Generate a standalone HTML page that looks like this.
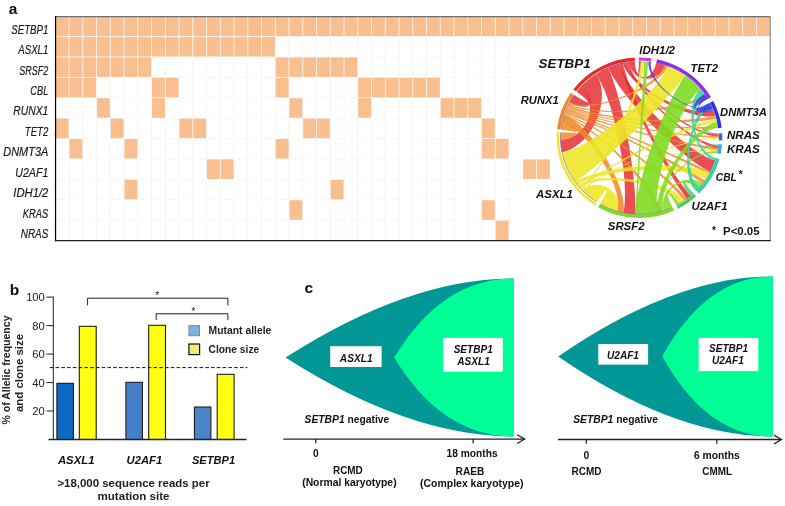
<!DOCTYPE html>
<html><head><meta charset="utf-8"><title>Figure</title>
<style>html,body{margin:0;padding:0;background:#fff}svg{display:block}</style></head>
<body>
<svg width="785" height="506" viewBox="0 0 785 506">
<rect width="785" height="506" fill="#fff"/>
<g id="grid"><line x1="69.05" y1="16.6" x2="69.05" y2="240.4" stroke="#f5f5f5" stroke-width="1"/>
<line x1="82.80" y1="16.6" x2="82.80" y2="240.4" stroke="#f5f5f5" stroke-width="1"/>
<line x1="96.54" y1="16.6" x2="96.54" y2="240.4" stroke="#f5f5f5" stroke-width="1"/>
<line x1="110.29" y1="16.6" x2="110.29" y2="240.4" stroke="#f5f5f5" stroke-width="1"/>
<line x1="124.04" y1="16.6" x2="124.04" y2="240.4" stroke="#f5f5f5" stroke-width="1"/>
<line x1="137.79" y1="16.6" x2="137.79" y2="240.4" stroke="#f5f5f5" stroke-width="1"/>
<line x1="151.54" y1="16.6" x2="151.54" y2="240.4" stroke="#f5f5f5" stroke-width="1"/>
<line x1="165.28" y1="16.6" x2="165.28" y2="240.4" stroke="#f5f5f5" stroke-width="1"/>
<line x1="179.03" y1="16.6" x2="179.03" y2="240.4" stroke="#f5f5f5" stroke-width="1"/>
<line x1="192.78" y1="16.6" x2="192.78" y2="240.4" stroke="#f5f5f5" stroke-width="1"/>
<line x1="206.53" y1="16.6" x2="206.53" y2="240.4" stroke="#f5f5f5" stroke-width="1"/>
<line x1="220.28" y1="16.6" x2="220.28" y2="240.4" stroke="#f5f5f5" stroke-width="1"/>
<line x1="234.03" y1="16.6" x2="234.03" y2="240.4" stroke="#f5f5f5" stroke-width="1"/>
<line x1="247.77" y1="16.6" x2="247.77" y2="240.4" stroke="#f5f5f5" stroke-width="1"/>
<line x1="261.52" y1="16.6" x2="261.52" y2="240.4" stroke="#f5f5f5" stroke-width="1"/>
<line x1="275.27" y1="16.6" x2="275.27" y2="240.4" stroke="#f5f5f5" stroke-width="1"/>
<line x1="289.02" y1="16.6" x2="289.02" y2="240.4" stroke="#f5f5f5" stroke-width="1"/>
<line x1="302.77" y1="16.6" x2="302.77" y2="240.4" stroke="#f5f5f5" stroke-width="1"/>
<line x1="316.51" y1="16.6" x2="316.51" y2="240.4" stroke="#f5f5f5" stroke-width="1"/>
<line x1="330.26" y1="16.6" x2="330.26" y2="240.4" stroke="#f5f5f5" stroke-width="1"/>
<line x1="344.01" y1="16.6" x2="344.01" y2="240.4" stroke="#f5f5f5" stroke-width="1"/>
<line x1="357.76" y1="16.6" x2="357.76" y2="240.4" stroke="#f5f5f5" stroke-width="1"/>
<line x1="371.51" y1="16.6" x2="371.51" y2="240.4" stroke="#f5f5f5" stroke-width="1"/>
<line x1="385.25" y1="16.6" x2="385.25" y2="240.4" stroke="#f5f5f5" stroke-width="1"/>
<line x1="399.00" y1="16.6" x2="399.00" y2="240.4" stroke="#f5f5f5" stroke-width="1"/>
<line x1="412.75" y1="16.6" x2="412.75" y2="240.4" stroke="#f5f5f5" stroke-width="1"/>
<line x1="426.50" y1="16.6" x2="426.50" y2="240.4" stroke="#f5f5f5" stroke-width="1"/>
<line x1="440.25" y1="16.6" x2="440.25" y2="240.4" stroke="#f5f5f5" stroke-width="1"/>
<line x1="453.99" y1="16.6" x2="453.99" y2="240.4" stroke="#f5f5f5" stroke-width="1"/>
<line x1="467.74" y1="16.6" x2="467.74" y2="240.4" stroke="#f5f5f5" stroke-width="1"/>
<line x1="481.49" y1="16.6" x2="481.49" y2="240.4" stroke="#f5f5f5" stroke-width="1"/>
<line x1="495.24" y1="16.6" x2="495.24" y2="240.4" stroke="#f5f5f5" stroke-width="1"/>
<line x1="508.99" y1="16.6" x2="508.99" y2="240.4" stroke="#f5f5f5" stroke-width="1"/>
<line x1="522.73" y1="16.6" x2="522.73" y2="240.4" stroke="#f5f5f5" stroke-width="1"/>
<line x1="536.48" y1="16.6" x2="536.48" y2="240.4" stroke="#f5f5f5" stroke-width="1"/>
<line x1="550.23" y1="16.6" x2="550.23" y2="240.4" stroke="#f5f5f5" stroke-width="1"/>
<line x1="563.98" y1="16.6" x2="563.98" y2="240.4" stroke="#f5f5f5" stroke-width="1"/>
<line x1="577.73" y1="16.6" x2="577.73" y2="240.4" stroke="#f5f5f5" stroke-width="1"/>
<line x1="591.48" y1="16.6" x2="591.48" y2="240.4" stroke="#f5f5f5" stroke-width="1"/>
<line x1="605.22" y1="16.6" x2="605.22" y2="240.4" stroke="#f5f5f5" stroke-width="1"/>
<line x1="618.97" y1="16.6" x2="618.97" y2="240.4" stroke="#f5f5f5" stroke-width="1"/>
<line x1="632.72" y1="16.6" x2="632.72" y2="240.4" stroke="#f5f5f5" stroke-width="1"/>
<line x1="646.47" y1="16.6" x2="646.47" y2="240.4" stroke="#f5f5f5" stroke-width="1"/>
<line x1="660.22" y1="16.6" x2="660.22" y2="240.4" stroke="#f5f5f5" stroke-width="1"/>
<line x1="673.96" y1="16.6" x2="673.96" y2="240.4" stroke="#f5f5f5" stroke-width="1"/>
<line x1="687.71" y1="16.6" x2="687.71" y2="240.4" stroke="#f5f5f5" stroke-width="1"/>
<line x1="701.46" y1="16.6" x2="701.46" y2="240.4" stroke="#f5f5f5" stroke-width="1"/>
<line x1="715.21" y1="16.6" x2="715.21" y2="240.4" stroke="#f5f5f5" stroke-width="1"/>
<line x1="728.96" y1="16.6" x2="728.96" y2="240.4" stroke="#f5f5f5" stroke-width="1"/>
<line x1="742.70" y1="16.6" x2="742.70" y2="240.4" stroke="#f5f5f5" stroke-width="1"/>
<line x1="756.45" y1="16.6" x2="756.45" y2="240.4" stroke="#f5f5f5" stroke-width="1"/>
<line x1="55.3" y1="36.51" x2="770.2" y2="36.51" stroke="#f5f5f5" stroke-width="1" stroke-dasharray="9 5"/>
<line x1="55.3" y1="56.92" x2="770.2" y2="56.92" stroke="#f5f5f5" stroke-width="1" stroke-dasharray="9 5"/>
<line x1="55.3" y1="77.33" x2="770.2" y2="77.33" stroke="#f5f5f5" stroke-width="1" stroke-dasharray="9 5"/>
<line x1="55.3" y1="97.74" x2="770.2" y2="97.74" stroke="#f5f5f5" stroke-width="1" stroke-dasharray="9 5"/>
<line x1="55.3" y1="118.15" x2="770.2" y2="118.15" stroke="#f5f5f5" stroke-width="1" stroke-dasharray="9 5"/>
<line x1="55.3" y1="138.55" x2="770.2" y2="138.55" stroke="#f5f5f5" stroke-width="1" stroke-dasharray="9 5"/>
<line x1="55.3" y1="158.96" x2="770.2" y2="158.96" stroke="#f5f5f5" stroke-width="1" stroke-dasharray="9 5"/>
<line x1="55.3" y1="179.37" x2="770.2" y2="179.37" stroke="#f5f5f5" stroke-width="1" stroke-dasharray="9 5"/>
<line x1="55.3" y1="199.78" x2="770.2" y2="199.78" stroke="#f5f5f5" stroke-width="1" stroke-dasharray="9 5"/>
<line x1="55.3" y1="220.19" x2="770.2" y2="220.19" stroke="#f5f5f5" stroke-width="1" stroke-dasharray="9 5"/>
<rect x="517" y="39" width="235" height="200.5" fill="#fff"/>
<rect x="55.72" y="16.52" width="12.91" height="19.57" fill="#F9BF8F"/>
<rect x="69.47" y="16.52" width="12.91" height="19.57" fill="#F9BF8F"/>
<rect x="83.22" y="16.52" width="12.91" height="19.57" fill="#F9BF8F"/>
<rect x="96.96" y="16.52" width="12.91" height="19.57" fill="#F9BF8F"/>
<rect x="110.71" y="16.52" width="12.91" height="19.57" fill="#F9BF8F"/>
<rect x="124.46" y="16.52" width="12.91" height="19.57" fill="#F9BF8F"/>
<rect x="138.21" y="16.52" width="12.91" height="19.57" fill="#F9BF8F"/>
<rect x="151.96" y="16.52" width="12.91" height="19.57" fill="#F9BF8F"/>
<rect x="165.70" y="16.52" width="12.91" height="19.57" fill="#F9BF8F"/>
<rect x="179.45" y="16.52" width="12.91" height="19.57" fill="#F9BF8F"/>
<rect x="193.20" y="16.52" width="12.91" height="19.57" fill="#F9BF8F"/>
<rect x="206.95" y="16.52" width="12.91" height="19.57" fill="#F9BF8F"/>
<rect x="220.70" y="16.52" width="12.91" height="19.57" fill="#F9BF8F"/>
<rect x="234.45" y="16.52" width="12.91" height="19.57" fill="#F9BF8F"/>
<rect x="248.19" y="16.52" width="12.91" height="19.57" fill="#F9BF8F"/>
<rect x="261.94" y="16.52" width="12.91" height="19.57" fill="#F9BF8F"/>
<rect x="275.69" y="16.52" width="12.91" height="19.57" fill="#F9BF8F"/>
<rect x="289.44" y="16.52" width="12.91" height="19.57" fill="#F9BF8F"/>
<rect x="303.19" y="16.52" width="12.91" height="19.57" fill="#F9BF8F"/>
<rect x="316.93" y="16.52" width="12.91" height="19.57" fill="#F9BF8F"/>
<rect x="330.68" y="16.52" width="12.91" height="19.57" fill="#F9BF8F"/>
<rect x="344.43" y="16.52" width="12.91" height="19.57" fill="#F9BF8F"/>
<rect x="358.18" y="16.52" width="12.91" height="19.57" fill="#F9BF8F"/>
<rect x="371.93" y="16.52" width="12.91" height="19.57" fill="#F9BF8F"/>
<rect x="385.67" y="16.52" width="12.91" height="19.57" fill="#F9BF8F"/>
<rect x="399.42" y="16.52" width="12.91" height="19.57" fill="#F9BF8F"/>
<rect x="413.17" y="16.52" width="12.91" height="19.57" fill="#F9BF8F"/>
<rect x="426.92" y="16.52" width="12.91" height="19.57" fill="#F9BF8F"/>
<rect x="440.67" y="16.52" width="12.91" height="19.57" fill="#F9BF8F"/>
<rect x="454.41" y="16.52" width="12.91" height="19.57" fill="#F9BF8F"/>
<rect x="468.16" y="16.52" width="12.91" height="19.57" fill="#F9BF8F"/>
<rect x="481.91" y="16.52" width="12.91" height="19.57" fill="#F9BF8F"/>
<rect x="495.66" y="16.52" width="12.91" height="19.57" fill="#F9BF8F"/>
<rect x="509.41" y="16.52" width="12.91" height="19.57" fill="#F9BF8F"/>
<rect x="523.15" y="16.52" width="12.91" height="19.57" fill="#F9BF8F"/>
<rect x="536.90" y="16.52" width="12.91" height="19.57" fill="#F9BF8F"/>
<rect x="550.65" y="16.52" width="12.91" height="19.57" fill="#F9BF8F"/>
<rect x="564.40" y="16.52" width="12.91" height="19.57" fill="#F9BF8F"/>
<rect x="578.15" y="16.52" width="12.91" height="19.57" fill="#F9BF8F"/>
<rect x="591.89" y="16.52" width="12.91" height="19.57" fill="#F9BF8F"/>
<rect x="605.64" y="16.52" width="12.91" height="19.57" fill="#F9BF8F"/>
<rect x="619.39" y="16.52" width="12.91" height="19.57" fill="#F9BF8F"/>
<rect x="633.14" y="16.52" width="12.91" height="19.57" fill="#F9BF8F"/>
<rect x="646.89" y="16.52" width="12.91" height="19.57" fill="#F9BF8F"/>
<rect x="660.64" y="16.52" width="12.91" height="19.57" fill="#F9BF8F"/>
<rect x="674.38" y="16.52" width="12.91" height="19.57" fill="#F9BF8F"/>
<rect x="688.13" y="16.52" width="12.91" height="19.57" fill="#F9BF8F"/>
<rect x="701.88" y="16.52" width="12.91" height="19.57" fill="#F9BF8F"/>
<rect x="715.63" y="16.52" width="12.91" height="19.57" fill="#F9BF8F"/>
<rect x="729.38" y="16.52" width="12.91" height="19.57" fill="#F9BF8F"/>
<rect x="743.12" y="16.52" width="12.91" height="19.57" fill="#F9BF8F"/>
<rect x="756.87" y="16.52" width="12.91" height="19.57" fill="#F9BF8F"/>
<rect x="55.72" y="36.93" width="12.91" height="19.57" fill="#F9BF8F"/>
<rect x="69.47" y="36.93" width="12.91" height="19.57" fill="#F9BF8F"/>
<rect x="83.22" y="36.93" width="12.91" height="19.57" fill="#F9BF8F"/>
<rect x="96.96" y="36.93" width="12.91" height="19.57" fill="#F9BF8F"/>
<rect x="110.71" y="36.93" width="12.91" height="19.57" fill="#F9BF8F"/>
<rect x="124.46" y="36.93" width="12.91" height="19.57" fill="#F9BF8F"/>
<rect x="138.21" y="36.93" width="12.91" height="19.57" fill="#F9BF8F"/>
<rect x="151.96" y="36.93" width="12.91" height="19.57" fill="#F9BF8F"/>
<rect x="165.70" y="36.93" width="12.91" height="19.57" fill="#F9BF8F"/>
<rect x="179.45" y="36.93" width="12.91" height="19.57" fill="#F9BF8F"/>
<rect x="193.20" y="36.93" width="12.91" height="19.57" fill="#F9BF8F"/>
<rect x="206.95" y="36.93" width="12.91" height="19.57" fill="#F9BF8F"/>
<rect x="220.70" y="36.93" width="12.91" height="19.57" fill="#F9BF8F"/>
<rect x="234.45" y="36.93" width="12.91" height="19.57" fill="#F9BF8F"/>
<rect x="248.19" y="36.93" width="12.91" height="19.57" fill="#F9BF8F"/>
<rect x="261.94" y="36.93" width="12.91" height="19.57" fill="#F9BF8F"/>
<rect x="55.72" y="57.34" width="12.91" height="19.57" fill="#F9BF8F"/>
<rect x="69.47" y="57.34" width="12.91" height="19.57" fill="#F9BF8F"/>
<rect x="83.22" y="57.34" width="12.91" height="19.57" fill="#F9BF8F"/>
<rect x="96.96" y="57.34" width="12.91" height="19.57" fill="#F9BF8F"/>
<rect x="110.71" y="57.34" width="12.91" height="19.57" fill="#F9BF8F"/>
<rect x="124.46" y="57.34" width="12.91" height="19.57" fill="#F9BF8F"/>
<rect x="138.21" y="57.34" width="12.91" height="19.57" fill="#F9BF8F"/>
<rect x="275.69" y="57.34" width="12.91" height="19.57" fill="#F9BF8F"/>
<rect x="289.44" y="57.34" width="12.91" height="19.57" fill="#F9BF8F"/>
<rect x="303.19" y="57.34" width="12.91" height="19.57" fill="#F9BF8F"/>
<rect x="316.93" y="57.34" width="12.91" height="19.57" fill="#F9BF8F"/>
<rect x="330.68" y="57.34" width="12.91" height="19.57" fill="#F9BF8F"/>
<rect x="344.43" y="57.34" width="12.91" height="19.57" fill="#F9BF8F"/>
<rect x="55.72" y="77.75" width="12.91" height="19.57" fill="#F9BF8F"/>
<rect x="69.47" y="77.75" width="12.91" height="19.57" fill="#F9BF8F"/>
<rect x="83.22" y="77.75" width="12.91" height="19.57" fill="#F9BF8F"/>
<rect x="151.96" y="77.75" width="12.91" height="19.57" fill="#F9BF8F"/>
<rect x="165.70" y="77.75" width="12.91" height="19.57" fill="#F9BF8F"/>
<rect x="275.69" y="77.75" width="12.91" height="19.57" fill="#F9BF8F"/>
<rect x="358.18" y="77.75" width="12.91" height="19.57" fill="#F9BF8F"/>
<rect x="371.93" y="77.75" width="12.91" height="19.57" fill="#F9BF8F"/>
<rect x="385.67" y="77.75" width="12.91" height="19.57" fill="#F9BF8F"/>
<rect x="399.42" y="77.75" width="12.91" height="19.57" fill="#F9BF8F"/>
<rect x="413.17" y="77.75" width="12.91" height="19.57" fill="#F9BF8F"/>
<rect x="426.92" y="77.75" width="12.91" height="19.57" fill="#F9BF8F"/>
<rect x="96.96" y="98.16" width="12.91" height="19.57" fill="#F9BF8F"/>
<rect x="151.96" y="98.16" width="12.91" height="19.57" fill="#F9BF8F"/>
<rect x="289.44" y="98.16" width="12.91" height="19.57" fill="#F9BF8F"/>
<rect x="358.18" y="98.16" width="12.91" height="19.57" fill="#F9BF8F"/>
<rect x="440.67" y="98.16" width="12.91" height="19.57" fill="#F9BF8F"/>
<rect x="454.41" y="98.16" width="12.91" height="19.57" fill="#F9BF8F"/>
<rect x="468.16" y="98.16" width="12.91" height="19.57" fill="#F9BF8F"/>
<rect x="55.72" y="118.57" width="12.91" height="19.57" fill="#F9BF8F"/>
<rect x="110.71" y="118.57" width="12.91" height="19.57" fill="#F9BF8F"/>
<rect x="179.45" y="118.57" width="12.91" height="19.57" fill="#F9BF8F"/>
<rect x="193.20" y="118.57" width="12.91" height="19.57" fill="#F9BF8F"/>
<rect x="303.19" y="118.57" width="12.91" height="19.57" fill="#F9BF8F"/>
<rect x="316.93" y="118.57" width="12.91" height="19.57" fill="#F9BF8F"/>
<rect x="481.91" y="118.57" width="12.91" height="19.57" fill="#F9BF8F"/>
<rect x="69.47" y="138.97" width="12.91" height="19.57" fill="#F9BF8F"/>
<rect x="124.46" y="138.97" width="12.91" height="19.57" fill="#F9BF8F"/>
<rect x="275.69" y="138.97" width="12.91" height="19.57" fill="#F9BF8F"/>
<rect x="481.91" y="138.97" width="12.91" height="19.57" fill="#F9BF8F"/>
<rect x="495.66" y="138.97" width="12.91" height="19.57" fill="#F9BF8F"/>
<rect x="206.95" y="159.38" width="12.91" height="19.57" fill="#F9BF8F"/>
<rect x="220.70" y="159.38" width="12.91" height="19.57" fill="#F9BF8F"/>
<rect x="523.15" y="159.38" width="12.91" height="19.57" fill="#F9BF8F"/>
<rect x="536.90" y="159.38" width="12.91" height="19.57" fill="#F9BF8F"/>
<rect x="124.46" y="179.79" width="12.91" height="19.57" fill="#F9BF8F"/>
<rect x="330.68" y="179.79" width="12.91" height="19.57" fill="#F9BF8F"/>
<rect x="289.44" y="200.20" width="12.91" height="19.57" fill="#F9BF8F"/>
<rect x="481.91" y="200.20" width="12.91" height="19.57" fill="#F9BF8F"/>
<rect x="495.66" y="220.61" width="12.91" height="19.57" fill="#F9BF8F"/>
<line x1="55.3" y1="16.6" x2="770.2" y2="16.6" stroke="#6e6e6e" stroke-width="1.3"/>
<line x1="770.2" y1="16.6" x2="770.2" y2="240.4" stroke="#8a8a8a" stroke-width="1.2"/>
<line x1="55.55" y1="16.0" x2="55.55" y2="241.3" stroke="#000" stroke-width="1.25"/>
<line x1="54.949999999999996" y1="240.70000000000002" x2="770.8000000000001" y2="240.70000000000002" stroke="#222" stroke-width="1.3"/></g>
<g font-family="'Liberation Sans', sans-serif" font-style="italic" font-size="12.4" fill="#1a1a1a" stroke="#1a1a1a" stroke-width="0.2"><text x="48.3" y="33.8" text-anchor="end" textLength="37" lengthAdjust="spacingAndGlyphs">SETBP1</text>
<text x="48.3" y="54.2" text-anchor="end" textLength="30" lengthAdjust="spacingAndGlyphs">ASXL1</text>
<text x="48.3" y="74.6" text-anchor="end" textLength="29" lengthAdjust="spacingAndGlyphs">SRSF2</text>
<text x="48.3" y="95.0" text-anchor="end" textLength="18" lengthAdjust="spacingAndGlyphs">CBL</text>
<text x="48.3" y="115.4" text-anchor="end" textLength="35" lengthAdjust="spacingAndGlyphs">RUNX1</text>
<text x="48.3" y="135.9" text-anchor="end" textLength="23.5" lengthAdjust="spacingAndGlyphs">TET2</text>
<text x="48.3" y="156.3" text-anchor="end" textLength="45" lengthAdjust="spacingAndGlyphs">DNMT3A</text>
<text x="48.3" y="176.7" text-anchor="end" textLength="33" lengthAdjust="spacingAndGlyphs">U2AF1</text>
<text x="48.3" y="197.1" text-anchor="end" textLength="35" lengthAdjust="spacingAndGlyphs">IDH1/2</text>
<text x="48.3" y="217.5" text-anchor="end" textLength="25.5" lengthAdjust="spacingAndGlyphs">KRAS</text>
<text x="48.3" y="237.9" text-anchor="end" textLength="27.5" lengthAdjust="spacingAndGlyphs">NRAS</text></g>
<g font-family="'Liberation Sans', sans-serif" font-weight="bold" font-size="15.5" fill="#111"><text x="8.8" y="13.6">a</text><text x="9.8" y="295">b</text><text x="304.6" y="292.8">c</text></g>
<g id="chord" transform="translate(639.5 137.7) scale(1.0166 0.9847)"><circle cx="0" cy="0" r="83.5" fill="#fff"/>
<path d="M-69.01 -35.92A77.8 77.8 0 0 1 -64.50 -43.51C-47.29 -31.90 -45.56 -34.33 -62.13 -46.82A77.8 77.8 0 0 1 -58.27 -51.55C-40.31 -35.67 -47.74 -24.85 -69.01 -35.92Z" fill="#E8262C" fill-opacity="0.82"/>
<path d="M-76.37 14.84A77.8 77.8 0 0 1 -77.78 1.90C-51.27 1.25 -38.41 -33.98 -58.27 -51.55A77.8 77.8 0 0 1 -42.83 -64.95C-26.25 -39.81 -46.81 9.10 -76.37 14.84Z" fill="#E8262C" fill-opacity="0.82"/>
<path d="M-4.21 77.69A77.8 77.8 0 0 1 -15.64 76.21C-9.09 44.26 -24.87 -37.72 -42.83 -64.95A77.8 77.8 0 0 1 -30.90 -71.40C-16.22 -37.47 -2.21 40.77 -4.21 77.69Z" fill="#E8262C" fill-opacity="0.82"/>
<path d="M74.24 23.27A77.8 77.8 0 0 1 69.75 34.47C39.62 19.58 -17.55 -40.56 -30.90 -71.40A77.8 77.8 0 0 1 -19.61 -75.29C-12.00 -46.06 45.42 14.23 74.24 23.27Z" fill="#E8262C" fill-opacity="0.82"/>
<path d="M50.42 59.25A77.8 77.8 0 0 1 46.82 62.13C23.86 31.66 -9.99 -38.37 -19.61 -75.29A77.8 77.8 0 0 1 -16.44 -76.04C-8.73 -40.36 26.76 31.45 50.42 59.25Z" fill="#E8262C" fill-opacity="0.82"/>
<path d="M72.63 -27.88A77.8 77.8 0 0 1 74.48 -22.49C50.37 -15.21 -11.12 -51.42 -16.44 -76.04A77.8 77.8 0 0 1 -12.84 -76.73C-8.80 -52.59 49.78 -19.11 72.63 -27.88Z" fill="#E8262C" fill-opacity="0.82"/>
<path d="M77.73 -3.39A77.8 77.8 0 0 1 77.79 -1.36C51.07 -0.89 -8.43 -50.38 -12.84 -76.73A77.8 77.8 0 0 1 -11.77 -76.90C-7.77 -50.77 51.32 -2.24 77.73 -3.39Z" fill="#E8262C" fill-opacity="0.82"/>
<path d="M77.37 8.13A77.8 77.8 0 0 1 77.04 10.83C49.49 6.96 -7.56 -49.40 -11.77 -76.90A77.8 77.8 0 0 1 -10.42 -77.10C-6.75 -49.94 50.12 5.27 77.37 8.13Z" fill="#E8262C" fill-opacity="0.82"/>
<path d="M-10.42 -77.10A77.8 77.8 0 0 1 -5.43 -77.61C-3.97 -56.76 12.02 -55.61 16.44 -76.04A77.8 77.8 0 0 1 25.33 -73.56C18.44 -53.54 -7.59 -56.12 -10.42 -77.10Z" fill="#E8262C" fill-opacity="0.82"/>
<path d="M-5.43 -77.61A77.8 77.8 0 0 1 -4.48 -77.67C-3.28 -56.95 -0.50 -57.05 -0.68 -77.80A77.8 77.8 0 0 1 1.36 -77.79C1.00 -57.03 -3.98 -56.90 -5.43 -77.61Z" fill="#E8262C" fill-opacity="0.82"/>
<path d="M-77.78 1.90A77.8 77.8 0 0 1 -77.61 -5.43C-56.91 -3.98 -56.74 -5.96 -77.37 -8.13A77.8 77.8 0 0 1 -76.37 -14.84C-55.92 -10.87 -56.95 1.39 -77.78 1.90Z" fill="#F0861E" fill-opacity="0.82"/>
<path d="M-15.64 76.21A77.8 77.8 0 0 1 -21.84 74.67C-14.79 50.57 -51.72 -10.05 -76.37 -14.84A77.8 77.8 0 0 1 -74.40 -22.75C-49.21 -15.05 -10.35 50.41 -15.64 76.21Z" fill="#F0861E" fill-opacity="0.85"/>
<path d="M24.82 -73.74A77.8 77.8 0 0 1 27.88 -72.63C18.88 -49.20 -47.20 -23.43 -69.69 -34.59A77.8 77.8 0 0 1 -69.01 -35.92C-47.07 -24.50 16.92 -50.29 24.82 -73.74Z" fill="#F0861E" fill-opacity="0.8"/>
<path d="M64.50 -43.51A77.8 77.8 0 0 1 65.98 -41.23C40.26 -25.16 -42.94 -20.25 -70.37 -33.18A77.8 77.8 0 0 1 -69.72 -34.53C-43.01 -21.30 39.79 -26.84 64.50 -43.51Z" fill="#F0861E" fill-opacity="0.8"/>
<path d="M74.48 -22.49A77.8 77.8 0 0 1 75.32 -19.48C42.43 -10.97 -40.00 -17.89 -71.02 -31.76A77.8 77.8 0 0 1 -70.40 -33.13C-40.32 -18.97 42.66 -12.88 74.48 -22.49Z" fill="#F0861E" fill-opacity="0.8"/>
<path d="M76.84 -12.17A77.8 77.8 0 0 1 77.13 -10.15C41.52 -5.47 -38.57 -16.33 -71.64 -30.33A77.8 77.8 0 0 1 -71.05 -31.71C-38.84 -17.33 42.01 -6.65 76.84 -12.17Z" fill="#F0861E" fill-opacity="0.8"/>
<path d="M77.78 -1.90A77.8 77.8 0 0 1 77.80 -0.00C39.46 -0.00 -36.64 -14.65 -72.24 -28.89A77.8 77.8 0 0 1 -71.67 -30.27C-37.04 -15.65 40.20 -0.98 77.78 -1.90Z" fill="#F0861E" fill-opacity="0.8"/>
<path d="M77.12 10.29A77.8 77.8 0 0 1 76.73 12.84C35.14 5.88 -33.34 -12.56 -72.80 -27.43A77.8 77.8 0 0 1 -72.26 -28.83C-34.23 -13.66 36.53 4.87 77.12 10.29Z" fill="#F0861E" fill-opacity="0.8"/>
<path d="M69.75 34.47A77.8 77.8 0 0 1 68.37 37.12C30.45 16.53 -32.67 -11.56 -73.34 -25.97A77.8 77.8 0 0 1 -72.83 -27.37C-30.77 -11.57 29.47 14.56 69.75 34.47Z" fill="#F0861E" fill-opacity="0.8"/>
<path d="M64.50 43.51A77.8 77.8 0 0 1 62.38 46.50C30.76 22.93 -36.41 -12.07 -73.85 -24.49A77.8 77.8 0 0 1 -73.36 -25.91C-34.90 -12.32 30.68 20.69 64.50 43.51Z" fill="#F0861E" fill-opacity="0.8"/>
<path d="M46.82 62.13A77.8 77.8 0 0 1 44.07 64.12C24.78 36.06 -41.80 -12.94 -74.32 -23.00A77.8 77.8 0 0 1 -73.87 -24.43C-40.76 -13.48 25.83 34.28 46.82 62.13Z" fill="#F0861E" fill-opacity="0.8"/>
<path d="M21.97 74.63A77.8 77.8 0 0 1 18.29 75.62C11.29 46.65 -46.13 -13.27 -74.77 -21.50A77.8 77.8 0 0 1 -74.34 -22.94C-45.23 -13.96 13.36 45.41 21.97 74.63Z" fill="#F0861E" fill-opacity="0.8"/>
<path d="M27.88 -72.63A77.8 77.8 0 0 1 45.18 -63.34C22.40 -31.41 -31.41 22.40 -63.34 45.18A77.8 77.8 0 0 1 -76.27 15.38C-46.60 9.40 17.03 -44.38 27.88 -72.63Z" fill="#EDE528" fill-opacity="0.9"/>
<path d="M-21.84 74.67A77.8 77.8 0 0 1 -38.90 67.38C-28.52 49.41 -30.65 48.12 -41.80 65.62A77.8 77.8 0 0 1 -56.43 53.55C-40.99 38.90 -15.86 54.24 -21.84 74.67Z" fill="#EDE528" fill-opacity="0.9"/>
<path d="M69.13 35.68A77.8 77.8 0 0 1 65.25 42.37C41.71 27.08 -38.89 31.00 -60.84 48.50A77.8 77.8 0 0 1 -63.34 45.18C-39.40 28.10 43.01 22.20 69.13 35.68Z" fill="#EDE528" fill-opacity="0.85"/>
<path d="M44.62 63.73A77.8 77.8 0 0 1 38.90 67.38C26.62 46.11 -40.33 34.77 -58.92 50.81A77.8 77.8 0 0 1 -60.84 48.50C-41.05 32.72 30.11 43.00 44.62 63.73Z" fill="#EDE528" fill-opacity="0.85"/>
<path d="M75.32 -19.48A77.8 77.8 0 0 1 76.07 -16.31C40.76 -8.74 -31.08 27.78 -58.01 51.85A77.8 77.8 0 0 1 -58.92 50.81C-30.88 26.62 39.47 -10.21 75.32 -19.48Z" fill="#EDE528" fill-opacity="0.85"/>
<path d="M1.36 -77.79A77.8 77.8 0 0 1 4.75 -77.65C2.74 -44.83 -32.95 30.52 -57.07 52.87A77.8 77.8 0 0 1 -58.01 51.85C-34.02 30.41 0.80 -45.62 1.36 -77.79Z" fill="#EDE528" fill-opacity="0.85"/>
<path d="M77.80 -0.00A77.8 77.8 0 0 1 77.79 1.36C45.06 0.79 -32.74 30.97 -56.52 53.46A77.8 77.8 0 0 1 -57.07 52.87C-32.82 30.40 44.73 -0.00 77.80 -0.00Z" fill="#EDE528" fill-opacity="0.85"/>
<path d="M76.73 12.84A77.8 77.8 0 0 1 76.50 14.18C46.20 8.56 -33.80 32.64 -55.96 54.04A77.8 77.8 0 0 1 -56.52 53.46C-33.93 32.09 46.06 7.71 76.73 12.84Z" fill="#EDE528" fill-opacity="0.85"/>
<path d="M45.18 -63.34A77.8 77.8 0 0 1 60.03 -49.49C37.50 -30.92 11.43 47.24 18.29 75.62A77.8 77.8 0 0 1 -4.21 77.69C-2.29 42.31 24.60 -34.49 45.18 -63.34Z" fill="#80DC22" fill-opacity="0.9"/>
<path d="M4.75 -77.65A77.8 77.8 0 0 1 8.81 -77.30C3.67 -32.22 -0.85 32.42 -2.04 77.77A77.8 77.8 0 0 1 -4.21 77.69C-1.50 27.73 1.70 -27.72 4.75 -77.65Z" fill="#80DC22" fill-opacity="0.85"/>
<path d="M76.07 -16.31A77.8 77.8 0 0 1 77.12 -10.29C52.74 -7.04 16.44 50.61 24.04 73.99A77.8 77.8 0 0 1 18.29 75.62C12.29 50.81 51.11 -10.96 76.07 -16.31Z" fill="#80DC22" fill-opacity="0.85"/>
<path d="M62.38 46.50A77.8 77.8 0 0 1 58.72 51.04C42.72 37.14 20.75 52.67 28.51 72.39A77.8 77.8 0 0 1 24.04 73.99C17.40 53.56 45.15 33.65 62.38 46.50Z" fill="#80DC22" fill-opacity="0.85"/>
<path d="M38.90 67.38A77.8 77.8 0 0 1 36.28 68.82C26.61 50.46 23.75 51.87 32.39 70.74A77.8 77.8 0 0 1 28.51 72.39C20.89 53.04 28.51 49.37 38.90 67.38Z" fill="#80DC22" fill-opacity="0.85"/>
<path d="M76.50 14.18A77.8 77.8 0 0 1 76.18 15.78C53.48 11.08 13.77 52.85 19.61 75.29A77.8 77.8 0 0 1 18.29 75.62C12.80 52.91 53.53 9.92 76.50 14.18Z" fill="#80DC22" fill-opacity="0.85"/>
<path d="M60.03 -49.49A77.8 77.8 0 0 1 63.73 -44.62C45.50 -31.86 53.57 14.66 75.04 20.53A77.8 77.8 0 0 1 74.24 23.27C52.59 16.48 42.53 -35.06 60.03 -49.49Z" fill="#2ED696" fill-opacity="0.85"/>
<path d="M69.32 -35.32A77.8 77.8 0 0 1 71.07 -31.64C49.80 -22.17 41.14 35.76 58.72 51.04A77.8 77.8 0 0 1 55.87 54.14C38.78 37.58 48.12 -24.52 69.32 -35.32Z" fill="#2ED696" fill-opacity="0.85"/>
<path d="M77.52 6.65A77.8 77.8 0 0 1 77.37 8.13C55.92 5.88 40.92 38.56 56.62 53.36A77.8 77.8 0 0 1 55.87 54.14C40.31 39.07 55.93 4.80 77.52 6.65Z" fill="#2ED696" fill-opacity="0.8"/>
<path d="M63.73 -44.62A77.8 77.8 0 0 1 67.17 -39.25C49.25 -28.78 50.74 -26.08 69.20 -35.56A77.8 77.8 0 0 1 72.63 -27.88C53.16 -20.40 46.64 -32.66 63.73 -44.62Z" fill="#2A34E0" fill-opacity="0.8"/>
<path d="M65.98 -41.23A77.8 77.8 0 0 1 66.69 -40.07C48.51 -29.15 56.51 -3.06 77.69 -4.21A77.8 77.8 0 0 1 77.73 -3.39C56.48 -2.47 47.95 -29.96 65.98 -41.23Z" fill="#2A34E0" fill-opacity="0.8"/>
<path d="M58.72 51.04A77.8 77.8 0 0 1 57.82 52.06C42.39 38.17 39.05 41.58 53.26 56.71A77.8 77.8 0 0 1 50.42 59.25C36.95 43.41 43.03 37.40 58.72 51.04Z" fill="#38D650" fill-opacity="0.8"/>
<path d="M8.81 -77.30A77.8 77.8 0 0 1 11.23 -76.99C7.95 -54.48 50.30 -22.39 71.07 -31.64A77.8 77.8 0 0 1 71.62 -30.40C50.50 -21.43 6.21 -54.50 8.81 -77.30Z" fill="#2A34E0" fill-opacity="0.8"/>
<path d="M-65.09 -49.05A81.5 81.5 0 0 1 -4.69 -81.36L-4.51 -78.17A78.3 78.3 0 0 0 -62.53 -47.12Z" fill="#E8262C"/>
<path d="M-0.71 -81.50A81.5 81.5 0 0 1 11.77 -80.65L11.30 -77.48A78.3 78.3 0 0 0 -0.68 -78.30Z" fill="#C840CC"/>
<path d="M17.22 -79.66A81.5 81.5 0 0 1 70.37 -41.12L67.34 -39.35A78.0 78.0 0 0 0 16.48 -76.24Z" fill="#8A30E8"/>
<path d="M72.49 -37.25A81.5 81.5 0 0 1 80.88 -10.07L77.40 -9.64A78.0 78.0 0 0 0 69.37 -35.65Z" fill="#2A34E0"/>
<path d="M81.38 -4.41A81.5 81.5 0 0 1 81.45 2.84L78.05 2.73A78.1 78.1 0 0 0 77.99 -4.22Z" fill="#3866E0"/>
<path d="M81.20 6.96A81.5 81.5 0 0 1 79.81 16.53L76.28 15.80A77.9 77.9 0 0 0 77.62 6.65Z" fill="#38A8E8"/>
<path d="M78.61 21.51A81.5 81.5 0 0 1 58.53 56.72L56.23 54.49A78.3 78.3 0 0 0 75.52 20.66Z" fill="#2ED696"/>
<path d="M55.79 59.41A81.5 81.5 0 0 1 38.01 72.09L36.52 69.26A78.3 78.3 0 0 0 53.60 57.08Z" fill="#38D650"/>
<path d="M33.93 74.10A81.5 81.5 0 0 1 -40.75 70.58L-39.00 67.55A78.0 78.0 0 0 0 32.47 70.92Z" fill="#80DC22"/>
<path d="M-43.79 68.74A81.5 81.5 0 0 1 -81.30 -5.69L-78.91 -5.52A79.1 79.1 0 0 0 -42.50 66.71Z" fill="#EDE528"/>
<path d="M-81.05 -8.52A81.5 81.5 0 0 1 -67.57 -45.57L-65.08 -43.90A78.5 78.5 0 0 0 -78.07 -8.21Z" fill="#F0861E"/>
<path d="M-61.89 -47.15A77.8 77.8 0 0 1 -39.25 -67.17" fill="none" stroke="#b6d23a" stroke-width="0.7" stroke-opacity="0.75"/>
<path d="M-38.55 -67.58A77.8 77.8 0 0 1 -4.89 -77.65" fill="none" stroke="#6a55d8" stroke-width="0.7" stroke-opacity="0.75"/>
<path d="M-77.33 -8.54A77.8 77.8 0 0 1 -64.73 -43.17" fill="none" stroke="#4a5ad8" stroke-width="0.7" stroke-opacity="0.75"/>
<path d="M-42.14 65.40A77.8 77.8 0 0 1 -77.64 -5.02" fill="none" stroke="#6a4fd0" stroke-width="0.7" stroke-opacity="0.75"/>
<path d="M32.02 70.91A77.8 77.8 0 0 1 -38.55 67.58" fill="none" stroke="#7a50d8" stroke-width="0.7" stroke-opacity="0.75"/>
<path d="M74.93 20.92A77.8 77.8 0 0 1 56.15 53.85" fill="none" stroke="#5060d8" stroke-width="0.7" stroke-opacity="0.75"/>
<path d="M52.96 56.99A77.8 77.8 0 0 1 36.64 68.63" fill="none" stroke="#5060d8" stroke-width="0.7" stroke-opacity="0.75"/></g>
<g font-family="'Liberation Sans', sans-serif" font-style="italic" font-weight="bold" fill="#111"><text x="538.6" y="68" font-size="13.3" textLength="52" lengthAdjust="spacingAndGlyphs">SETBP1</text>
<text x="639.3" y="53.9" font-size="11.2" textLength="35.7" lengthAdjust="spacingAndGlyphs">IDH1/2</text>
<text x="690.6" y="71.7" font-size="11.2" textLength="27.3" lengthAdjust="spacingAndGlyphs">TET2</text>
<text x="720" y="115.8" font-size="11.2" textLength="47" lengthAdjust="spacingAndGlyphs">DNMT3A</text>
<text x="727" y="139.3" font-size="11.2" textLength="32.8" lengthAdjust="spacingAndGlyphs">NRAS</text>
<text x="727" y="152.9" font-size="11.2" textLength="32.8" lengthAdjust="spacingAndGlyphs">KRAS</text>
<text x="715.8" y="181" font-size="11.2" textLength="21" lengthAdjust="spacingAndGlyphs">CBL</text>
<text x="691.6" y="209.7" font-size="11.2" textLength="36" lengthAdjust="spacingAndGlyphs">U2AF1</text>
<text x="607.8" y="229.7" font-size="11.2" textLength="36.7" lengthAdjust="spacingAndGlyphs">SRSF2</text>
<text x="536" y="198" font-size="11.2" textLength="37" lengthAdjust="spacingAndGlyphs">ASXL1</text>
<text x="520.8" y="104.2" font-size="11.2" textLength="37.8" lengthAdjust="spacingAndGlyphs">RUNX1</text>
<text x="738.4" y="178.2" font-size="11" font-style="normal">*</text>
<text x="712" y="233.8" font-size="10" font-style="normal">*</text>
<text x="723" y="235.4" font-size="11.4" font-style="normal" textLength="36.6" lengthAdjust="spacingAndGlyphs">P&lt;0.05</text></g>
<g id="bars" font-family="'Liberation Sans', sans-serif"><rect x="56.9" y="383.3" width="16.5" height="56.2" fill="#1068C6" stroke="#161616" stroke-width="1.05"/>
<rect x="79.3" y="326.3" width="16.9" height="113.2" fill="#FFFF14" stroke="#161616" stroke-width="1.05"/>
<rect x="125.9" y="382.3" width="16.5" height="57.2" fill="#4680C8" stroke="#161616" stroke-width="1.05"/>
<rect x="148.7" y="325.3" width="16.8" height="114.2" fill="#FFFF14" stroke="#161616" stroke-width="1.05"/>
<rect x="194.4" y="407.0" width="16.5" height="32.5" fill="#4C84C8" stroke="#161616" stroke-width="1.05"/>
<rect x="217.2" y="374.3" width="16.9" height="65.2" fill="#FFFF14" stroke="#161616" stroke-width="1.05"/>
<line x1="49.8" y1="367.6" x2="247.4" y2="367.6" stroke="#111" stroke-width="1" stroke-dasharray="3.6 2.16"/>
<line x1="53.3" y1="296.8" x2="53.3" y2="439.5" stroke="#222" stroke-width="1"/>
<line x1="48.5" y1="439.5" x2="246.5" y2="439.5" stroke="#222" stroke-width="1.3"/>
<line x1="46.5" y1="411.0" x2="53.3" y2="411.0" stroke="#222" stroke-width="1"/>
<text x="44.8" y="415.0" text-anchor="end" font-size="11.2" fill="#222">20</text>
<line x1="46.5" y1="382.6" x2="53.3" y2="382.6" stroke="#222" stroke-width="1"/>
<text x="44.8" y="386.6" text-anchor="end" font-size="11.2" fill="#222">40</text>
<line x1="46.5" y1="354.1" x2="53.3" y2="354.1" stroke="#222" stroke-width="1"/>
<text x="44.8" y="358.1" text-anchor="end" font-size="11.2" fill="#222">60</text>
<line x1="46.5" y1="325.6" x2="53.3" y2="325.6" stroke="#222" stroke-width="1"/>
<text x="44.8" y="329.6" text-anchor="end" font-size="11.2" fill="#222">80</text>
<line x1="46.5" y1="297.1" x2="53.3" y2="297.1" stroke="#222" stroke-width="1"/>
<text x="44.8" y="301.1" text-anchor="end" font-size="11.2" fill="#222">100</text>
<path d="M87.6 305.4V298.2H227.9V305.4" fill="none" stroke="#222" stroke-width="1"/>
<path d="M156.2 320.1V313.8H227.9V320.1" fill="none" stroke="#222" stroke-width="1"/>
<text x="157.2" y="299.2" text-anchor="middle" font-size="10" fill="#111">*</text>
<text x="193.5" y="314.5" text-anchor="middle" font-size="10" fill="#111">*</text>
<rect x="188.9" y="325.6" width="10.7" height="10.2" fill="#7DB2E0" stroke="#777" stroke-width="0.8"/>
<rect x="188.9" y="344" width="10.7" height="10.6" fill="#F2EC6E" stroke="#111" stroke-width="1.2"/>
<text x="208.6" y="334.1" font-size="10.3" font-weight="bold" fill="#222" textLength="62.7" lengthAdjust="spacingAndGlyphs">Mutant allele</text>
<text x="208.6" y="352.6" font-size="10.3" font-weight="bold" fill="#222" textLength="50.6" lengthAdjust="spacingAndGlyphs">Clone size</text>
<text x="76.2" y="464.2" text-anchor="middle" font-size="11.1" font-weight="bold" font-style="italic" fill="#111" textLength="36.5" lengthAdjust="spacingAndGlyphs">ASXL1</text>
<text x="144.4" y="464.2" text-anchor="middle" font-size="11.1" font-weight="bold" font-style="italic" fill="#111" textLength="35.6" lengthAdjust="spacingAndGlyphs">U2AF1</text>
<text x="213.5" y="464.2" text-anchor="middle" font-size="11.1" font-weight="bold" font-style="italic" fill="#111" textLength="43.1" lengthAdjust="spacingAndGlyphs">SETBP1</text>
<text x="133.5" y="486.9" text-anchor="middle" font-size="11.4" font-weight="bold" fill="#222" textLength="152.2" lengthAdjust="spacingAndGlyphs">&gt;18,000 sequence reads per</text>
<text x="133.5" y="500" text-anchor="middle" font-size="11.4" font-weight="bold" fill="#222" textLength="72" lengthAdjust="spacingAndGlyphs">mutation site</text>
<text transform="translate(10.4 370) rotate(-90)" text-anchor="middle" font-size="10.5" font-weight="bold" fill="#222" textLength="109" lengthAdjust="spacingAndGlyphs">% of Allelic frequency</text>
<text transform="translate(23.1 373) rotate(-90)" text-anchor="middle" font-size="10.5" font-weight="bold" fill="#222" textLength="78" lengthAdjust="spacingAndGlyphs">and clone size</text></g>
<g id="panelc" font-family="'Liberation Sans', sans-serif"><path d="M285.5 357.6Q408.7 278.4 513.6 278.4V436.5Q408.7 436.5 285.5 357.6Z" fill="#029797"/>
<path d="M394.2 357.6Q442.0 278.4 513.6 278.4V436.5Q442.0 436.5 394.2 357.6Z" fill="#00FE96"/>
<path d="M558.2 356.6Q674.1 276.4 772.8 276.4V436.5Q674.1 436.5 558.2 356.6Z" fill="#029797"/>
<path d="M662.3 356.2Q706.5 276.4 772.8 276.4V436.5Q706.5 436.5 662.3 356.2Z" fill="#00FE96"/>
<line x1="283.3" y1="439.1" x2="524.5" y2="439.1" stroke="#222" stroke-width="1.3"/><path d="M517.2 434.70000000000005L524.7 439.1L517.2 443.5" fill="none" stroke="#222" stroke-width="1.25"/><line x1="315.8" y1="439.1" x2="315.8" y2="443.3" stroke="#222" stroke-width="1.25"/><line x1="473.1" y1="439.1" x2="473.1" y2="443.3" stroke="#222" stroke-width="1.25"/>
<line x1="558" y1="439.5" x2="781.3" y2="439.5" stroke="#222" stroke-width="1.3"/><path d="M774.0 435.1L781.5 439.5L774.0 443.9" fill="none" stroke="#222" stroke-width="1.25"/><line x1="586.3" y1="439.5" x2="586.3" y2="443.7" stroke="#222" stroke-width="1.25"/><line x1="716.8" y1="439.5" x2="716.8" y2="443.7" stroke="#222" stroke-width="1.25"/>
<rect x="330.2" y="346.2" width="51.4" height="20.8" fill="#fff"/>
<rect x="443.2" y="337.9" width="59.6" height="33.8" fill="#fff"/>
<rect x="598.3" y="344" width="49.8" height="20.6" fill="#fff"/>
<rect x="698.6" y="337.9" width="59.7" height="33.2" fill="#fff"/>
<g font-weight="bold" fill="#111">
<text x="356.2" y="361.7" text-anchor="middle" font-size="10.2" font-style="italic" textLength="32.7" lengthAdjust="spacingAndGlyphs">ASXL1</text>
<text x="473.2" y="353.2" text-anchor="middle" font-size="10.2" font-style="italic" textLength="39.1" lengthAdjust="spacingAndGlyphs">SETBP1</text>
<text x="473.6" y="364.6" text-anchor="middle" font-size="10.2" font-style="italic" textLength="32.7" lengthAdjust="spacingAndGlyphs">ASXL1</text>
<text x="623" y="358.5" text-anchor="middle" font-size="10.2" font-style="italic" textLength="32" lengthAdjust="spacingAndGlyphs">U2AF1</text>
<text x="728.6" y="352.1" text-anchor="middle" font-size="10.2" font-style="italic" textLength="39.1" lengthAdjust="spacingAndGlyphs">SETBP1</text>
<text x="727.9" y="363.8" text-anchor="middle" font-size="10.2" font-style="italic" textLength="32" lengthAdjust="spacingAndGlyphs">U2AF1</text>
<text x="304.6" y="422.6" font-size="10.2" textLength="84.6" lengthAdjust="spacingAndGlyphs"><tspan font-style="italic">SETBP1</tspan> negative</text>
<text x="573.2" y="422.7" font-size="10.2" textLength="84.8" lengthAdjust="spacingAndGlyphs"><tspan font-style="italic">SETBP1</tspan> negative</text>
<text x="315.9" y="457.3" text-anchor="middle" font-size="10.2">0</text>
<text x="472.1" y="457" text-anchor="middle" font-size="10.2" textLength="51" lengthAdjust="spacingAndGlyphs">18 months</text>
<text x="347.9" y="473.6" text-anchor="middle" font-size="10.2" textLength="29.8" lengthAdjust="spacingAndGlyphs">RCMD</text>
<text x="349.4" y="486.2" text-anchor="middle" font-size="10.2" textLength="94.4" lengthAdjust="spacingAndGlyphs">(Normal karyotype)</text>
<text x="470" y="474.6" text-anchor="middle" font-size="10.2" textLength="28.8" lengthAdjust="spacingAndGlyphs">RAEB</text>
<text x="471.8" y="487.1" text-anchor="middle" font-size="10.2" textLength="103.4" lengthAdjust="spacingAndGlyphs">(Complex karyotype)</text>
<text x="586.3" y="458.5" text-anchor="middle" font-size="10.2">0</text>
<text x="716.8" y="458.5" text-anchor="middle" font-size="10.2" textLength="45.8" lengthAdjust="spacingAndGlyphs">6 months</text>
<text x="586.6" y="474.7" text-anchor="middle" font-size="10.2" textLength="30" lengthAdjust="spacingAndGlyphs">RCMD</text>
<text x="717.2" y="475.3" text-anchor="middle" font-size="10.2" textLength="29.7" lengthAdjust="spacingAndGlyphs">CMML</text>
</g></g>
</svg>
</body></html>
